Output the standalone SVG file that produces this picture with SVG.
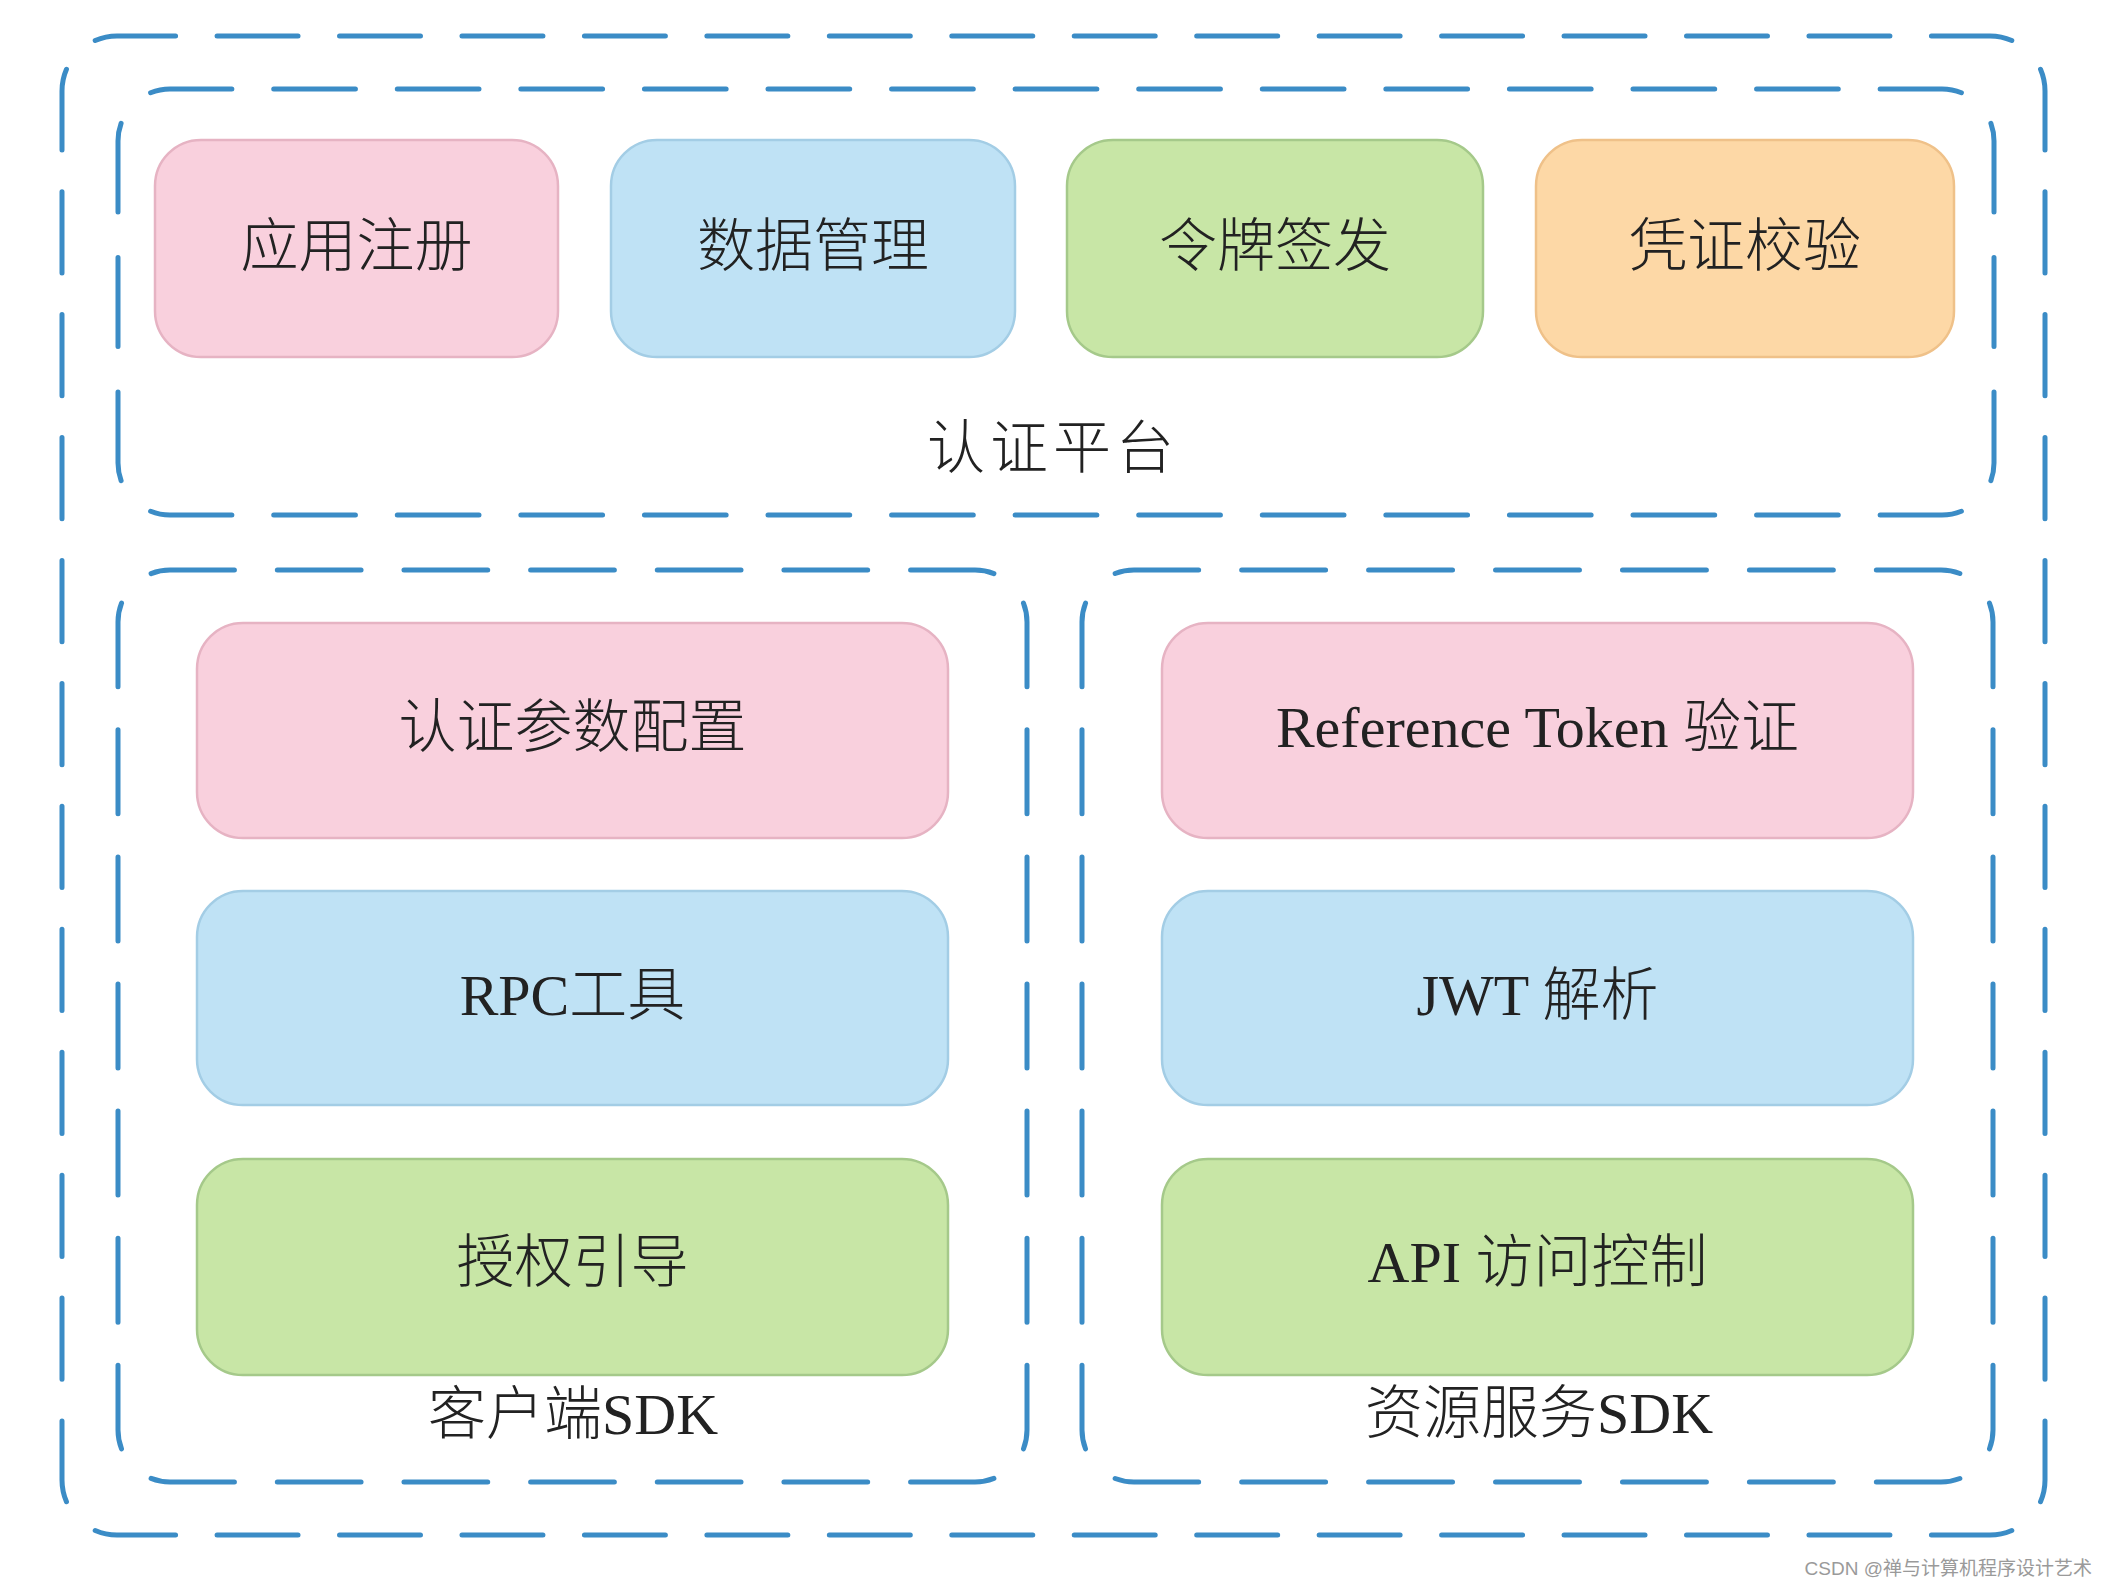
<svg xmlns="http://www.w3.org/2000/svg" width="2108" height="1587" viewBox="0 0 2108 1587">
<style>
.frame{fill:none;stroke:#3b8cc6;stroke-width:5;stroke-dasharray:80 41;stroke-dashoffset:100.5;stroke-linecap:round}
.pink{fill:#f9d0dd;stroke:#e6b3c3;stroke-width:2.5}
.blue{fill:#bfe2f5;stroke:#a3cde5;stroke-width:2.5}
.green{fill:#c8e6a6;stroke:#a5c98a;stroke-width:2.5}
.orange{fill:#fdd8a6;stroke:#efc189;stroke-width:2.5}
.t{font-family:"Liberation Serif","Noto Sans CJK SC",serif;font-size:58px;fill:#222;text-anchor:middle;dominant-baseline:central;font-weight:300}
.lbl{font-family:"Liberation Serif","Noto Sans CJK SC",serif;font-size:58px;fill:#222;text-anchor:middle;dominant-baseline:central;font-weight:300}
.wm{font-family:"Liberation Sans","Noto Sans CJK SC",sans-serif;font-size:19px;fill:#9a9a9a;text-anchor:end;dominant-baseline:central}
</style>
<rect width="2108" height="1587" fill="#ffffff"/>

<g id="outer">
<path class="frame" pathLength="1936" d="M78.11,52.11 A55,55 0 0 1 117,36 H1990 A55,55 0 0 1 2028.89,52.11"/>
<path class="frame" pathLength="1452" d="M2028.89,52.11 A55,55 0 0 1 2045,91 V1480 A55,55 0 0 1 2028.89,1518.89"/>
<path class="frame" pathLength="1936" d="M2028.89,1518.89 A55,55 0 0 1 1990,1535 H117 A55,55 0 0 1 78.11,1518.89"/>
<path class="frame" pathLength="1452" d="M78.11,1518.89 A55,55 0 0 1 62,1480 V91 A55,55 0 0 1 78.11,52.11"/>
</g>

<g id="auth-platform">
<path class="frame" pathLength="1815" d="M133.23,104.23 A52,52 0 0 1 170,89 H1942 A52,52 0 0 1 1978.77,104.23"/>
<path class="frame" pathLength="363" d="M1978.77,104.23 A52,52 0 0 1 1994,141 V463 A52,52 0 0 1 1978.77,499.77"/>
<path class="frame" pathLength="1815" d="M1978.77,499.77 A52,52 0 0 1 1942,515 H170 A52,52 0 0 1 133.23,499.77"/>
<path class="frame" pathLength="363" d="M133.23,499.77 A52,52 0 0 1 118,463 V141 A52,52 0 0 1 133.23,104.23"/>
<text class="lbl" x="1053" y="448" font-size="52" letter-spacing="5">认证平台</text>
</g>

<g id="client-sdk">
<path class="frame" pathLength="847" d="M133.23,585.23 A52,52 0 0 1 170,570 H975 A52,52 0 0 1 1011.77,585.23"/>
<path class="frame" pathLength="847" d="M1011.77,585.23 A52,52 0 0 1 1027,622 V1430 A52,52 0 0 1 1011.77,1466.77"/>
<path class="frame" pathLength="847" d="M1011.77,1466.77 A52,52 0 0 1 975,1482 H170 A52,52 0 0 1 133.23,1466.77"/>
<path class="frame" pathLength="847" d="M133.23,1466.77 A52,52 0 0 1 118,1430 V622 A52,52 0 0 1 133.23,585.23"/>
<text class="lbl" x="573" y="1414">客户端SDK</text>
</g>

<g id="resource-sdk">
<path class="frame" pathLength="847" d="M1097.23,585.23 A52,52 0 0 1 1134,570 H1941 A52,52 0 0 1 1977.77,585.23"/>
<path class="frame" pathLength="847" d="M1977.77,585.23 A52,52 0 0 1 1993,622 V1430 A52,52 0 0 1 1977.77,1466.77"/>
<path class="frame" pathLength="847" d="M1977.77,1466.77 A52,52 0 0 1 1941,1482 H1134 A52,52 0 0 1 1097.23,1466.77"/>
<path class="frame" pathLength="847" d="M1097.23,1466.77 A52,52 0 0 1 1082,1430 V622 A52,52 0 0 1 1097.23,585.23"/>
<text class="lbl" x="1539" y="1413">资源服务SDK</text>
</g>

<g id="node-app-register">
<rect class="pink" x="155" y="140" width="403" height="217" rx="46" ry="46"/>
<text class="t" x="356.5" y="246">应用注册</text>
</g>
<g id="node-data-manage">
<rect class="blue" x="611" y="140" width="404" height="217" rx="46" ry="46"/>
<text class="t" x="813" y="246">数据管理</text>
</g>
<g id="node-token-issue">
<rect class="green" x="1067" y="140" width="416" height="217" rx="46" ry="46"/>
<text class="t" x="1275" y="246">令牌签发</text>
</g>
<g id="node-credential-verify">
<rect class="orange" x="1536" y="140" width="418" height="217" rx="46" ry="46"/>
<text class="t" x="1745" y="246">凭证校验</text>
</g>

<g id="node-auth-config">
<rect class="pink" x="197" y="623" width="751" height="215" rx="46" ry="46"/>
<text class="t" x="572.5" y="727">认证参数配置</text>
</g>
<g id="node-rpc">
<rect class="blue" x="197" y="891" width="751" height="214" rx="46" ry="46"/>
<text class="t" x="572.5" y="995">RPC工具</text>
</g>
<g id="node-auth-guide">
<rect class="green" x="197" y="1159" width="751" height="216" rx="46" ry="46"/>
<text class="t" x="572.5" y="1262">授权引导</text>
</g>

<g id="node-ref-token">
<rect class="pink" x="1162" y="623" width="751" height="215" rx="46" ry="46"/>
<text class="t" x="1537.5" y="727">Reference Token 验证</text>
</g>
<g id="node-jwt">
<rect class="blue" x="1162" y="891" width="751" height="214" rx="46" ry="46"/>
<text class="t" x="1537.5" y="995">JWT 解析</text>
</g>
<g id="node-api-access">
<rect class="green" x="1162" y="1159" width="751" height="216" rx="46" ry="46"/>
<text class="t" x="1537.5" y="1262">API 访问控制</text>
</g>

<g id="connectors"></g>

<text class="wm" x="2092" y="1568">CSDN @禅与计算机程序设计艺术</text>
</svg>
